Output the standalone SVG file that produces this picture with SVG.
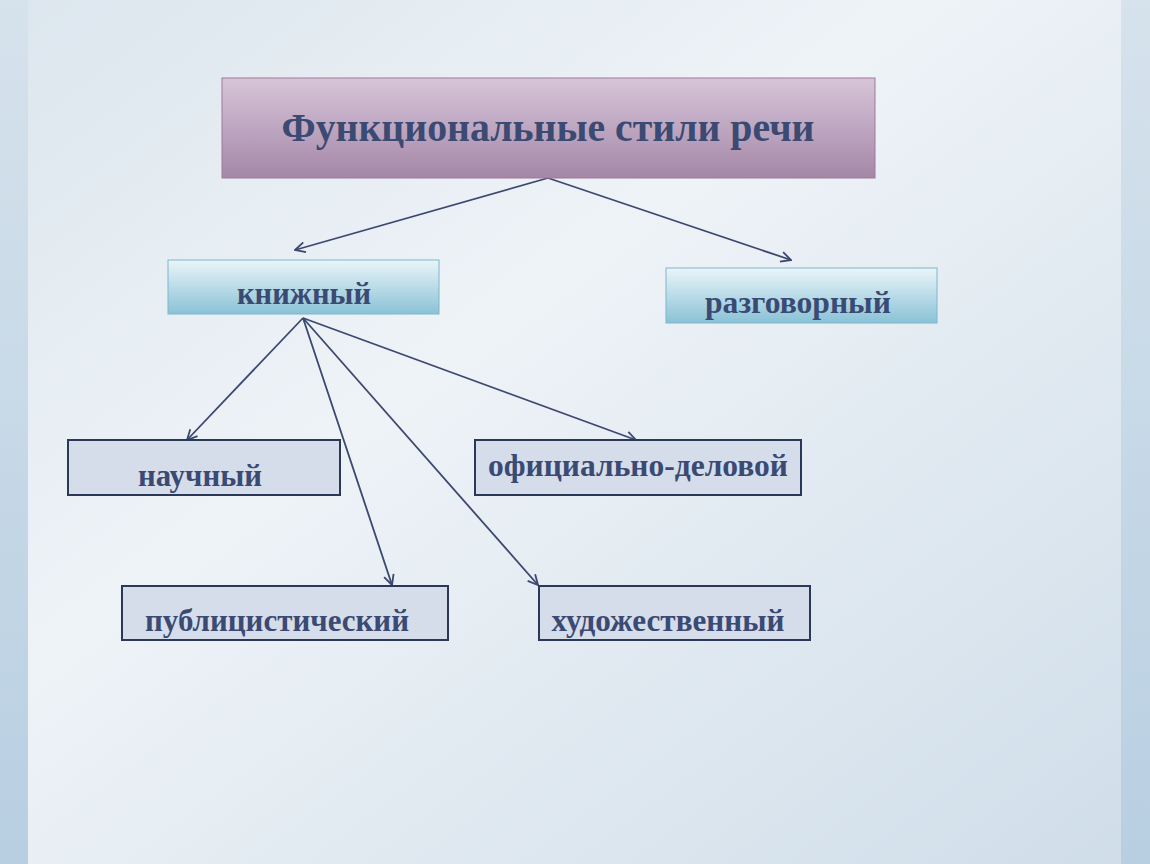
<svg xmlns="http://www.w3.org/2000/svg" width="1150" height="864" viewBox="0 0 1150 864">
<defs>
<linearGradient id="bg" x1="0" y1="0" x2="1" y2="1"><stop offset="0" stop-color="#dce6ee"/><stop offset="0.4" stop-color="#eef3f7"/><stop offset="1" stop-color="#cfdde9"/></linearGradient>
<linearGradient id="side" x1="0" y1="0" x2="0" y2="1"><stop offset="0" stop-color="#d6e2ec"/><stop offset="1" stop-color="#b8cfe2"/></linearGradient>
<linearGradient id="title" x1="0" y1="0" x2="0" y2="1"><stop offset="0" stop-color="#d7c5d9"/><stop offset="1" stop-color="#a587a8"/></linearGradient>
<linearGradient id="cyan" x1="0" y1="0" x2="0" y2="1"><stop offset="0" stop-color="#eaf5f9"/><stop offset="1" stop-color="#8ac2d6"/></linearGradient>
<marker id="ah" viewBox="0 0 12 12" refX="11" refY="6" markerWidth="12" markerHeight="12" markerUnits="userSpaceOnUse" orient="auto"><path d="M1,1 L11,6 L1,11" fill="none" stroke="#3c4870" stroke-width="1.8"/></marker>
</defs>
<style>
text{font-family:"Liberation Serif",serif;font-weight:bold;fill:#3a4a72;text-anchor:middle}
.n{fill:#d5dcea;stroke:#2c3858;stroke-width:2}
.c{fill:url(#cyan);stroke:#7fb6cc;stroke-width:1}
.t{font-size:31px}
line{stroke:#3c4870;stroke-width:1.8;marker-end:url(#ah)}
</style>
<rect width="1150" height="864" fill="url(#bg)"/>
<rect x="0" y="0" width="28" height="864" fill="url(#side)"/>
<rect x="1121" y="0" width="29" height="864" fill="url(#side)"/>
<g id="connectors">
<line x1="548" y1="178" x2="295" y2="250"/>
<line x1="548" y1="178" x2="791" y2="260"/>
<line x1="303" y1="318" x2="187" y2="440"/>
<line x1="303" y1="318" x2="392" y2="585"/>
<line x1="303" y1="318" x2="538" y2="585"/>
<line x1="303" y1="318" x2="636" y2="440"/>
</g>
<g id="title-node"><rect x="222" y="78" width="653" height="100" fill="url(#title)" stroke="#a07898"/><text x="548" y="141" font-size="41" textLength="533" lengthAdjust="spacingAndGlyphs">Функциональные стили речи</text></g>
<g id="knizhny"><rect class="c" x="168" y="260" width="271" height="54"/><text class="t" x="304" y="304" textLength="134" lengthAdjust="spacingAndGlyphs">книжный</text></g>
<g id="razgovorny"><rect class="c" x="666" y="268" width="271" height="55"/><text class="t" x="798" y="313" textLength="186" lengthAdjust="spacingAndGlyphs">разговорный</text></g>
<g id="nauchny"><rect class="n" x="68" y="440" width="272" height="55"/><text class="t" x="200" y="486" textLength="124" lengthAdjust="spacingAndGlyphs">научный</text></g>
<g id="ofic"><rect class="n" x="475" y="440" width="326" height="55"/><text class="t" x="638" y="476" textLength="300" lengthAdjust="spacingAndGlyphs">официально-деловой</text></g>
<g id="publ"><rect class="n" x="122" y="586" width="326" height="54"/><text class="t" x="277" y="631" textLength="264" lengthAdjust="spacingAndGlyphs">публицистический</text></g>
<g id="hud"><rect class="n" x="539" y="586" width="271" height="54"/><text class="t" x="668" y="631" textLength="233" lengthAdjust="spacingAndGlyphs">художественный</text></g>
</svg>
